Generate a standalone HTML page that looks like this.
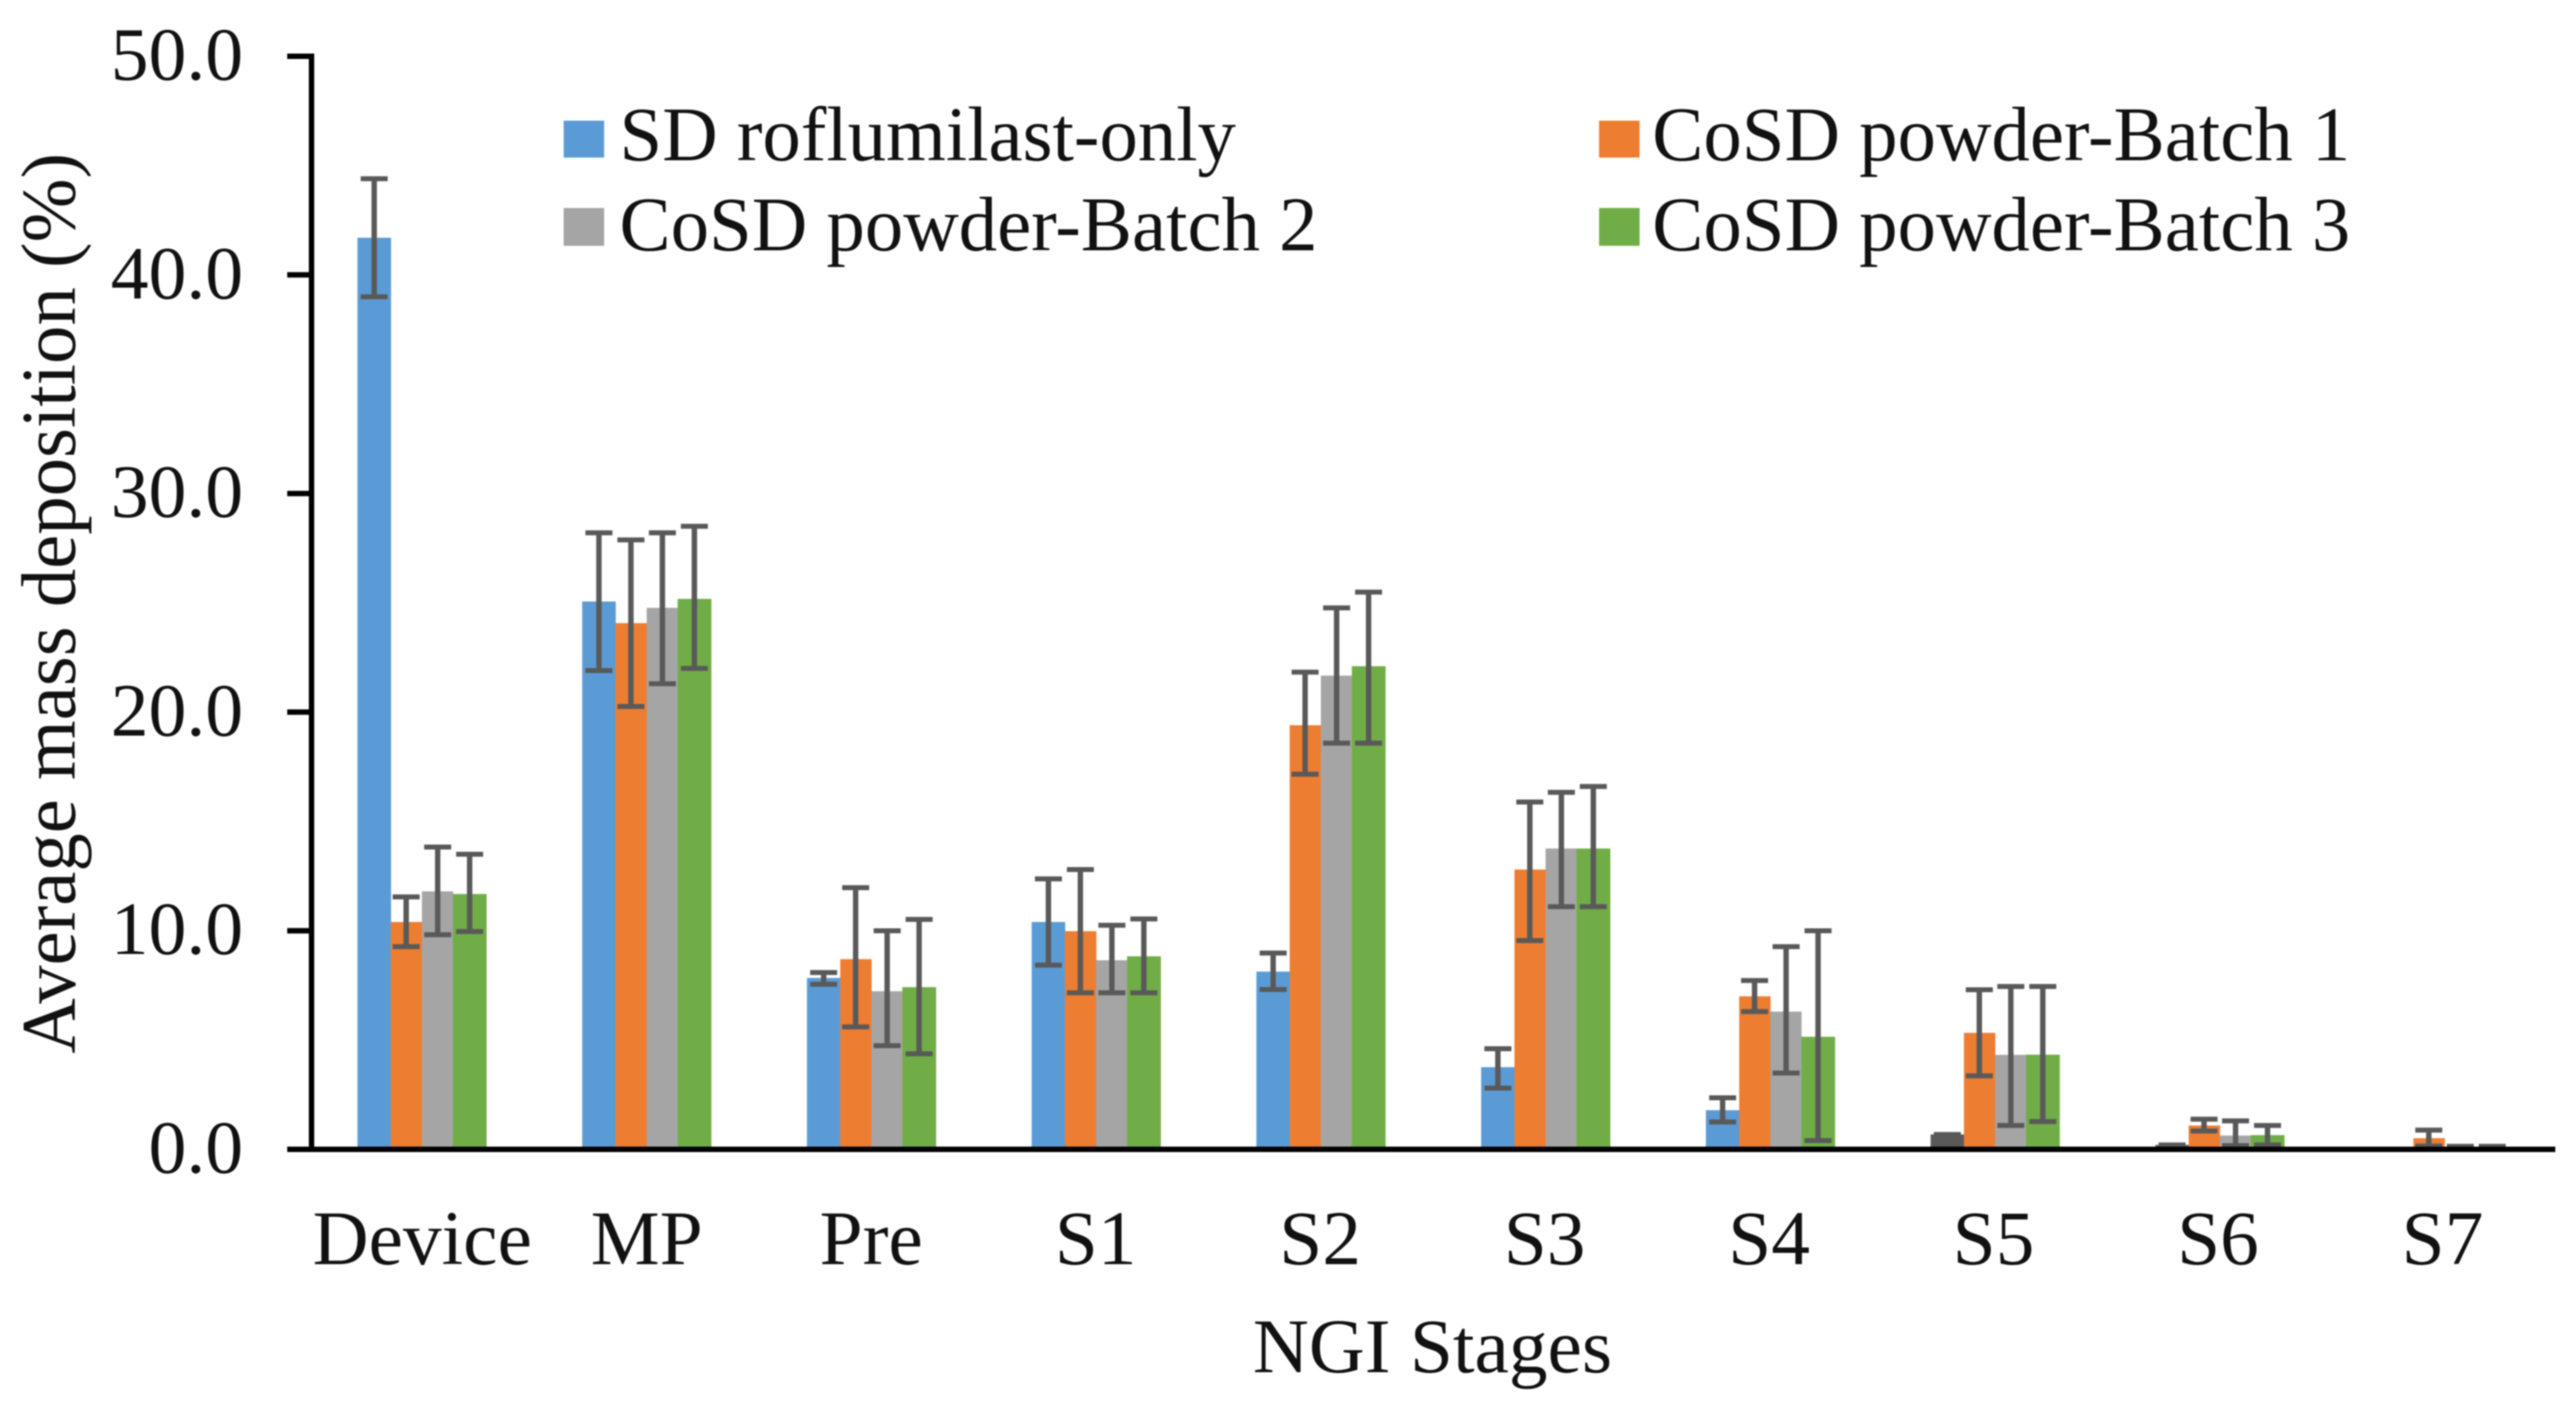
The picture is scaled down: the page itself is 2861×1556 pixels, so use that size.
<!DOCTYPE html>
<html lang="en">
<head>
<meta charset="utf-8">
<title>NGI stage deposition chart</title>
<style>
html,body{margin:0;padding:0;background:#fff;width:2861px;height:1556px;overflow:hidden}
svg{display:block;filter:blur(0.8px)}
text{font-family:"Liberation Serif",serif;fill:#111}
</style>
</head>
<body>
<svg id="chart" width="2861" height="1556" viewBox="0 0 2861 1556" xmlns="http://www.w3.org/2000/svg">
  <text x="0" y="0" font-size="85.3" text-anchor="middle" transform="translate(83 670) rotate(-90)">Average mass deposition (%)</text>
  <text x="1591" y="1524" font-size="86" text-anchor="middle">NGI Stages</text>
  <g>
    <rect x="626" y="134" width="45" height="41" fill="#5B9BD5"/>
    <text x="688" y="178" font-size="85.3">SD roflumilast-only</text>
    <rect x="1776" y="134" width="45" height="41" fill="#ED7D31"/>
    <text x="1835" y="178" font-size="85.3">CoSD powder-Batch 1</text>
    <rect x="626" y="231" width="45" height="42" fill="#A5A5A5"/>
    <text x="688" y="278" font-size="85.3">CoSD powder-Batch 2</text>
    <rect x="1776" y="231" width="45" height="42" fill="#70AD47"/>
    <text x="1835" y="278" font-size="85.3">CoSD powder-Batch 3</text>
  </g>
  <g id="bars"></g>
  <g id="errors"></g>
  <g id="axes"></g>
  <g id="ticks"></g>
</svg>
<script>
const categories = ["Device","MP","Pre","S1","S2","S3","S4","S5","S6","S7"];
const yTickValues = [0,10,20,30,40,50];
const yTickLabels = ["0.0","10.0","20.0","30.0","40.0","50.0"];

const seriesNames = ["sd-roflumilast","batch-1","batch-2","batch-3"];
const seriesColors = ["#5B9BD5","#ED7D31","#A5A5A5","#70AD47"];

const sdValues  = [41.7,25.06,7.84,10.4,8.13,3.76,1.79,0.68,0.2,0];
const sdHigh    = [44.4,28.2,8.09,12.37,8.98,4.6,2.36,0.68,0.2,0];
const sdLow     = [39.0,21.9,7.55,8.43,7.31,2.8,1.25,0,0.05,0];

const b1Values  = [10.4,24.07,8.7,9.98,19.4,12.8,7.0,5.33,1.09,0.51];
const b1High    = [11.55,27.88,11.97,12.8,21.83,15.89,7.72,7.3,1.38,0.88];
const b1Low     = [9.27,20.26,5.6,7.16,17.16,9.55,6.3,3.36,0.84,0.15];

const b2Values  = [11.8,24.77,7.23,8.65,21.67,13.76,6.3,4.32,0.63,0.12];
const b2High    = [13.83,28.2,10.0,10.25,24.77,16.33,9.27,7.45,1.3,0.14];
const b2Low     = [9.82,21.3,4.74,7.16,18.58,11.1,3.49,1.09,0.17,0.1];

const b3Values  = [11.68,25.18,7.42,8.83,22.1,13.76,5.15,4.33,0.65,0.12];
const b3High    = [13.5,28.5,10.52,10.54,25.49,16.6,10.0,7.45,1.09,0.14];
const b3Low     = [9.96,22.0,4.37,7.16,18.58,11.1,0.4,1.27,0.2,0.1];

const darkBarCategories = ["S5","S6"];

const allValues = [sdValues,b1Values,b2Values,b3Values];
const allHigh = [sdHigh,b1High,b2High,b3High];
const allLow = [sdLow,b1Low,b2Low,b3Low];

const NS = "http://www.w3.org/2000/svg";
const plotLeft = 343.8, catWidth = 249.6;
const seriesOffset = [-71.6,-34.6,0,34.4];
const seriesWidth = [37,34.6,34.4,37.2];
const errOffset = [-53,-17.5,17.5,53];
const y0 = 1276.5, pxPerUnit = 24.28;
const errColor = "#595959";

function yScale(v){ return y0 - v * pxPerUnit; }
function groupCenter(i){ return plotLeft + catWidth * (i + 0.5); }
function labelCenter(i){ return 469 + 249.3 * i; }

function mk(tag, attrs, parent){
  const el = document.createElementNS(NS, tag);
  for (const k in attrs) el.setAttribute(k, attrs[k]);
  parent.appendChild(el);
  return el;
}

const barsG = document.getElementById("bars");
const errG = document.getElementById("errors");
const axesG = document.getElementById("axes");
const ticksG = document.getElementById("ticks");

categories.forEach(function(cat, i){
  seriesNames.forEach(function(name, s){
    const v = allValues[s][i];
    const x = groupCenter(i) + seriesOffset[s];
    const dark = s === 0 && darkBarCategories.indexOf(cat) >= 0;
    const bar = mk("rect", {x:x, y:yScale(v), width:seriesWidth[s] + 0.3, height:Math.max(0, y0 - yScale(v)), fill: dark ? errColor : seriesColors[s]}, barsG);
    
    

    const hi = allHigh[s][i], lo = allLow[s][i];
    if (hi === 0 && lo === 0) return;
    const cx = groupCenter(i) + errOffset[s];
    const g = mk("g", {stroke:errColor, fill:"none"}, errG);
    
    
    mk("line", {x1:cx, x2:cx, y1:yScale(hi), y2:yScale(lo), "stroke-width":6}, g);
    mk("line", {x1:cx - 15, x2:cx + 15, y1:yScale(hi), y2:yScale(hi), "stroke-width":5.5}, g);
    mk("line", {x1:cx - 15, x2:cx + 15, y1:yScale(lo), y2:yScale(lo), "stroke-width":5.5}, g);
  });

  const label = mk("text", {x:labelCenter(i), y:1404, "font-size":86, "text-anchor":"middle"}, ticksG);
  label.textContent = cat;
  
  
});

yTickValues.forEach(function(v, i){
  const tick = mk("line", {x1:319, x2:346, y1:yScale(v), y2:yScale(v), stroke:"#000", "stroke-width":6}, axesG);
  
  
  const t = mk("text", {x:270, y:yScale(v) + 26, "font-size":84, "text-anchor":"end"}, ticksG);
  t.textContent = yTickLabels[i];
  
  
});

const yAxis = mk("line", {x1:346, x2:346, y1:yScale(50) - 3, y2:y0 + 3, stroke:"#000", "stroke-width":6}, axesG);


const xAxis = mk("line", {x1:319, x2:2838, y1:y0, y2:y0, stroke:"#000", "stroke-width":6}, axesG);


</script>
</body>
</html>
